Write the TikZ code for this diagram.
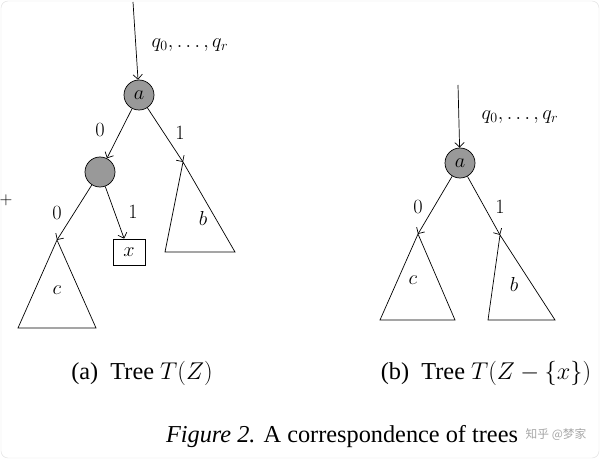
\documentclass[tikz,border=0pt]{standalone}
\usepackage{fontspec}
\setmainfont{Liberation Serif}
\newfontfamily\cjk{Noto Sans CJK SC}
\usetikzlibrary{arrows.meta}
\tikzset{
  inner/.style={circle, draw, fill=gray!80, minimum size=30*0.03cm, inner sep=0pt},
  leaf/.style={draw, minimum width=32*0.03cm, minimum height=26*0.03cm, inner sep=0pt},
  edge/.style={-{Straight Barb[length=4pt]}},
  lbl/.style={font=\LARGE}
}
\begin{document}
\begin{tikzpicture}[x=0.03cm, y=-0.03cm, line width=0.6pt]
  \useasboundingbox (0,0) rectangle (600,459);
  \draw[gray!25, rounded corners=6pt, line width=0.4pt] (1,1) rectangle (599,458);

  % Left tree
  \coordinate (lin) at (133,2);
  \node[inner] (la) at (139,95) {\LARGE$a$};
  \node[inner] (lv) at (100,172) {};
  \node[leaf] (lx) at (129,252) {\LARGE$x$};
  \coordinate (lb) at (183,162);
  \coordinate (lc) at (57,240);
  \draw (lb) -- (165,252) -- (235,252) -- cycle;
  \draw (lc) -- (18,328) -- (96,328) -- cycle;
  \node[lbl] at (203,218) {$b$};
  \node[lbl] at (57,290) {$c$};
  \draw[edge] (lin) -- (la);
  \draw[edge] (la) -- (lv);
  \draw[edge] (la) -- (lb);
  \draw[edge] (lv) -- (lc);
  \draw[edge] (lv) -- (lx);
  \node[lbl] at (190,45) {$q_0,\ldots,q_r$};
  \node[lbl] at (100,130) {$0$};
  \node[lbl] at (180,133) {$1$};
  \node[lbl] at (57,213) {$0$};
  \node[lbl] at (133,212) {$1$};
  \node[font=\Large] at (6,200) {$+$};

  % Right tree
  \coordinate (rin) at (458,85);
  \node[inner] (ra) at (460,163) {\LARGE$a$};
  \coordinate (rc) at (418,234);
  \coordinate (rb) at (500,235);
  \draw (rc) -- (380,320) -- (455,320) -- cycle;
  \draw (rb) -- (488,320) -- (555,320) -- cycle;
  \node[lbl] at (413,280) {$c$};
  \node[lbl] at (514,284) {$b$};
  \draw[edge] (rin) -- (ra);
  \draw[edge] (ra) -- (rc);
  \draw[edge] (ra) -- (rb);
  \node[lbl] at (520,117) {$q_0,\ldots,q_r$};
  \node[lbl] at (418,207) {$0$};
  \node[lbl] at (500,207) {$1$};

  % Captions
  \node[font=\huge] at (142,373) {(a)\ \ Tree $T(Z)$};
  \node[font=\huge] at (486,373) {(b)\ \ Tree $T(Z-\{x\})$};
  \node[font=\huge] at (342,437) {\textit{Figure 2.} A correspondence of trees};
  \node[font=\cjk\normalsize, text=gray!70] at (556,435) {知乎 @梦家};
\end{tikzpicture}
\end{document}
